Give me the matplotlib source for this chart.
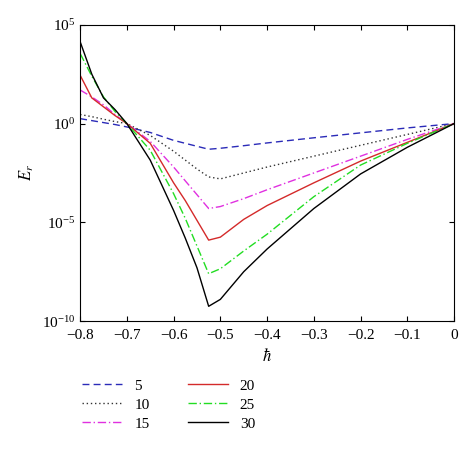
import numpy as np
import matplotlib
matplotlib.use("Agg")
import matplotlib.pyplot as plt

plt.rcParams['font.family'] = ['Liberation Serif', 'DejaVu Serif']
plt.rcParams['mathtext.fontset'] = 'stix'

# hbar grid and log10(E_r)
h = [-0.8, -0.775, -0.75, -0.725, -0.7, -0.65, -0.6, -0.575, -0.55, -0.525,
     -0.5, -0.45, -0.4, -0.3, -0.2, -0.1, 0.0]
log_e5 = [0.25, 0.15, 0.05, -0.05, -0.17, -0.45, -0.85, -1.0, -1.15, -1.3,
          -1.25, -1.12, -0.98, -0.72, -0.47, -0.22, 0]
log_e10 = [0.46, 0.35, 0.22, 0.1, 0, -0.6, -1.4, -1.85, -2.3, -2.7,
           -2.8, -2.5, -2.2, -1.65, -1.1, -0.55, 0]
log_e15 = [1.7, 1.35, 0.95, 0.45, 0, -0.9, -2.2, -2.9, -3.6, -4.3,
           -4.2, -3.8, -3.35, -2.5, -1.65, -0.8, 0]
log_e20 = [2.45, 1.3, 0.85, 0.4, 0, -1.0, -3.0, -3.9, -4.9, -5.9,
           -5.75, -4.85, -4.15, -3.0, -1.9, -0.95, 0]
log_e25 = [3.55, 2.4, 1.35, 0.6, 0, -1.35, -3.55, -4.8, -6.2, -7.6,
           -7.35, -6.45, -5.6, -3.7, -2.1, -1.0, 0]
log_e30 = [4.15, 2.5, 1.3, 0.7, 0, -1.85, -4.4, -5.8, -7.3, -9.25,
           -8.9, -7.5, -6.35, -4.3, -2.55, -1.2, 0]
labels = ['5', '10', '15', '20', '25', '30']

series = [log_e5, log_e10, log_e15, log_e20, log_e25, log_e30]
styles = [('#2b2bb8', (0, (5, 3))), ('#333333', (0, (1, 2))),
          ('#e030e0', (0, (6, 2, 1, 2))), ('#d42a2a', '-'),
          ('#22dd22', (0, (6, 2, 1, 2))), ('black', '-')]

fig = plt.figure(figsize=(4.74, 4.51), dpi=100)
ax = fig.add_axes([0.169, 0.288, 0.789, 0.657])
lines = []
for vals, (c, ls), lab in zip(series, styles, labels):
    ln, = ax.plot(h, 10 ** np.array(vals), color=c, linestyle=ls, lw=1.0, label=lab)
    lines.append(ln)

ax.set_yscale('log')
ax.set_xlim(-0.8, 0)
ax.set_ylim(1e-10, 1e5)
ax.set_yticks([1e-10, 1e-5, 1e0, 1e5])
ax.yaxis.set_minor_locator(matplotlib.ticker.NullLocator())
ax.set_xticks(np.arange(-0.8, 0.01, 0.1))
ax.set_xticklabels(['\u22120.8', '\u22120.7', '\u22120.6', '\u22120.5', '\u22120.4',
                    '\u22120.3', '\u22120.2', '\u22120.1', '0'])
ax.tick_params(direction='in', top=True, right=True, labelsize=11)
ax.tick_params(axis='x', pad=6)
ax.set_xlabel(r'$\hbar$', fontsize=12)
ax.set_ylabel(r'$E_r$', fontsize=12)

fig.legend(handles=lines, loc='upper left', bbox_to_anchor=(0.145, 0.19), ncol=2,
           frameon=False, fontsize=11, handlelength=2.6, columnspacing=2.5,
           labelspacing=0.35)
fig.savefig('out.png', dpi=100)
